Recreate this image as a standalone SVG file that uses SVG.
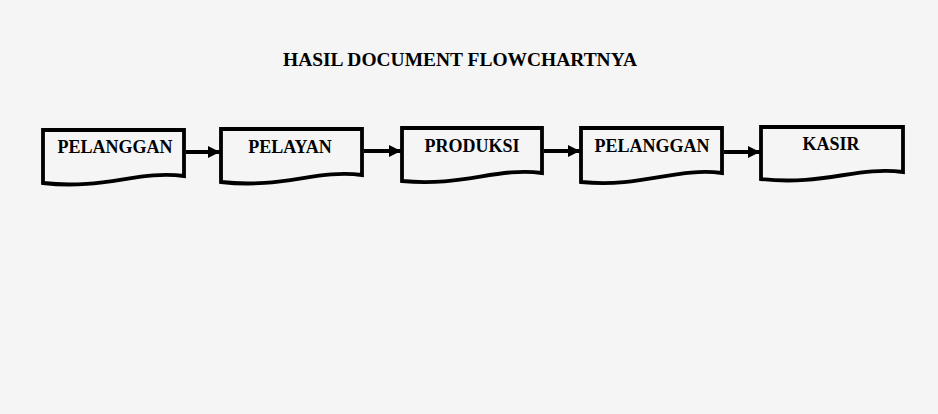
<svg xmlns="http://www.w3.org/2000/svg" width="938" height="414" viewBox="0 0 938 414">
<style>
.doc{fill:none;stroke:#000;stroke-width:3.8;stroke-linejoin:miter}
.lbl{font-family:"Liberation Serif","Times New Roman",serif;font-weight:bold;font-size:18px;fill:#000;text-anchor:middle}
.title{font-family:"Liberation Serif","Times New Roman",serif;font-weight:bold;font-size:18px;fill:#000;text-anchor:middle}
.conn{stroke:#000;stroke-width:3.8;fill:none}
</style>
<defs>
<marker id="ah" markerWidth="12" markerHeight="12" refX="10" refY="5" orient="auto" markerUnits="userSpaceOnUse" viewBox="0 0 10 10">
<path d="M0,0 L10,5 L0,10 z" fill="#000"/>
</marker>
</defs>
<rect width="938" height="414" fill="#f6f5f5"/>
<text class="title" x="460" y="66" textLength="354" lengthAdjust="spacingAndGlyphs">HASIL DOCUMENT FLOWCHARTNYA</text>
<g id="n1">
<path class="doc" d="M43,130 H184 V176 C139,170 104,190 43,183 Z"/>
<text class="lbl" x="115" y="153">PELANGGAN</text>
</g>
<g id="n2">
<path class="doc" d="M221,129 H362 V175 C317,169 282,189 221,182 Z"/>
<text class="lbl" x="290" y="152.5">PELAYAN</text>
</g>
<g id="n3">
<path class="doc" d="M402,128 H542 V173 C497,167 462,187 402,181 Z"/>
<text class="lbl" x="472" y="152">PRODUKSI</text>
</g>
<g id="n4">
<path class="doc" d="M581,128 H722 V173 C677,167 642,188 581,182 Z"/>
<text class="lbl" x="652" y="152">PELANGGAN</text>
</g>
<g id="n5">
<path class="doc" d="M761,127 H903 V172 C858,166 823,186 761,179 Z"/>
<text class="lbl" x="831" y="150">KASIR</text>
</g>
<g id="connectors">
<line class="conn" x1="186" y1="152" x2="220" y2="152" marker-end="url(#ah)"/>
<line class="conn" x1="364" y1="151" x2="401" y2="151" marker-end="url(#ah)"/>
<line class="conn" x1="544" y1="151" x2="580" y2="151" marker-end="url(#ah)"/>
<line class="conn" x1="724" y1="152" x2="760" y2="152" marker-end="url(#ah)"/>
</g>
</svg>
